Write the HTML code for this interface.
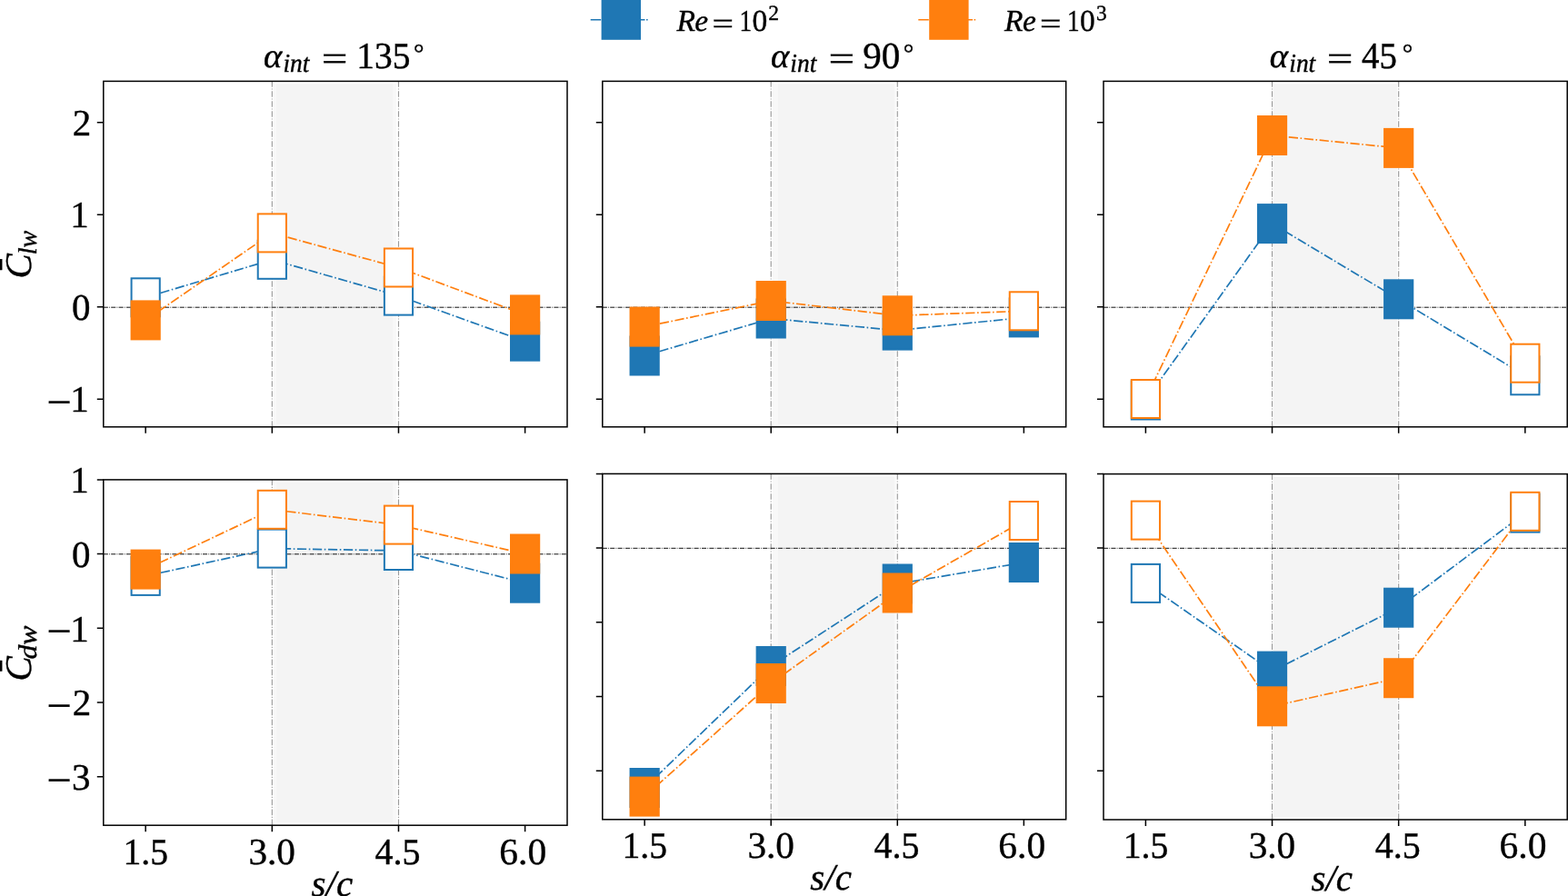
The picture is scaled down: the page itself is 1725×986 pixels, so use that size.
<!DOCTYPE html>
<html><head><meta charset="utf-8"><title>Figure</title>
<style>
html,body{margin:0;padding:0;background:#fff;}
body{width:1725px;height:986px;overflow:hidden;}
svg{display:block;}
text{font-family:"Liberation Serif", "DejaVu Serif", serif;fill:#000;stroke:#000;stroke-width:0.4px;text-rendering:geometricPrecision;}
</style></head>
<body>
<svg width="1725" height="986" viewBox="0 0 1725 986">
<rect width="1725" height="986" fill="#fff"/>
<rect x="301.00" y="92.40" width="135.20" height="374.40" fill="#f8f8f8"/>
<rect x="304.00" y="92.40" width="128.00" height="374.40" fill="#f4f4f4"/>
<line x1="299.33" y1="469.80" x2="299.33" y2="89.40" stroke="#9a9a9a" stroke-width="1.15" stroke-dasharray="6.64 1.66 1.04 1.66"/>
<line x1="438.47" y1="469.80" x2="438.47" y2="89.40" stroke="#9a9a9a" stroke-width="1.15" stroke-dasharray="6.64 1.66 1.04 1.66"/>
<line x1="113.80" y1="338.20" x2="624.00" y2="338.20" stroke="#111" stroke-width="1.0" stroke-dasharray="5.07 1.27 0.79 1.27"/>
<polyline points="160.18,327.30 299.33,285.80 438.47,325.60 577.62,375.70" fill="none" stroke="#1f77b4" stroke-width="1.7" stroke-dasharray="10.26 2.57 1.6 2.57"/>
<rect x="144.58" y="306.30" width="31.20" height="42.00" fill="#fff" stroke="#1f77b4" stroke-width="2.0"/>
<rect x="283.73" y="264.80" width="31.20" height="42.00" fill="#fff" stroke="#1f77b4" stroke-width="2.0"/>
<rect x="422.87" y="304.60" width="31.20" height="42.00" fill="#fff" stroke="#1f77b4" stroke-width="2.0"/>
<rect x="562.02" y="354.70" width="31.20" height="42.00" fill="#1f77b4" stroke="#1f77b4" stroke-width="2.0"/>
<polyline points="160.18,352.40 299.33,256.40 438.47,294.50 577.62,346.40" fill="none" stroke="#ff7f0e" stroke-width="1.7" stroke-dasharray="10.26 2.57 1.6 2.57"/>
<rect x="144.58" y="331.40" width="31.20" height="42.00" fill="#ff7f0e" stroke="#ff7f0e" stroke-width="2.0"/>
<rect x="283.73" y="235.40" width="31.20" height="42.00" fill="#fff" stroke="#ff7f0e" stroke-width="2.0"/>
<rect x="422.87" y="273.50" width="31.20" height="42.00" fill="#fff" stroke="#ff7f0e" stroke-width="2.0"/>
<rect x="562.02" y="325.40" width="31.20" height="42.00" fill="#ff7f0e" stroke="#ff7f0e" stroke-width="2.0"/>
<rect x="113.80" y="89.40" width="510.20" height="380.40" fill="none" stroke="#000" stroke-width="1.50" stroke-linecap="square"/>
<path d="M160.18 469.80v7.00M299.33 469.80v7.00M438.47 469.80v7.00M577.62 469.80v7.00M113.80 134.76h-7.00M113.80 236.23h-7.00M113.80 337.70h-7.00M113.80 439.17h-7.00" stroke="#000" stroke-width="1.50" fill="none"/>
<text x="79.66" y="148.96" font-size="41.00">2</text>
<text x="77.36" y="250.43" font-size="41.00">1</text>
<text x="79.06" y="351.90" font-size="41.00">0</text>
<text x="77.36" y="453.37" font-size="41.00">1</text>
<text transform="translate(51.60 458.20) scale(1.174 1.126)" font-size="41.00">−</text>
<rect x="850.00" y="92.40" width="135.50" height="374.40" fill="#f8f8f8"/>
<rect x="856.00" y="92.40" width="127.80" height="374.40" fill="#f4f4f4"/>
<line x1="848.22" y1="469.80" x2="848.22" y2="89.40" stroke="#9a9a9a" stroke-width="1.15" stroke-dasharray="6.64 1.66 1.04 1.66"/>
<line x1="987.28" y1="469.80" x2="987.28" y2="89.40" stroke="#9a9a9a" stroke-width="1.15" stroke-dasharray="6.64 1.66 1.04 1.66"/>
<line x1="662.80" y1="338.20" x2="1172.70" y2="338.20" stroke="#111" stroke-width="1.0" stroke-dasharray="5.07 1.27 0.79 1.27"/>
<polyline points="709.15,391.50 848.22,350.50 987.28,363.60 1126.35,349.40" fill="none" stroke="#1f77b4" stroke-width="1.7" stroke-dasharray="10.26 2.57 1.6 2.57"/>
<rect x="693.55" y="370.50" width="31.20" height="42.00" fill="#1f77b4" stroke="#1f77b4" stroke-width="2.0"/>
<rect x="832.62" y="329.50" width="31.20" height="42.00" fill="#1f77b4" stroke="#1f77b4" stroke-width="2.0"/>
<rect x="971.68" y="342.60" width="31.20" height="42.00" fill="#1f77b4" stroke="#1f77b4" stroke-width="2.0"/>
<rect x="1110.75" y="328.40" width="31.20" height="42.00" fill="#1f77b4" stroke="#1f77b4" stroke-width="2.0"/>
<polyline points="709.15,359.60 848.22,331.00 987.28,347.30 1126.35,342.30" fill="none" stroke="#ff7f0e" stroke-width="1.7" stroke-dasharray="10.26 2.57 1.6 2.57"/>
<rect x="693.55" y="338.60" width="31.20" height="42.00" fill="#ff7f0e" stroke="#ff7f0e" stroke-width="2.0"/>
<rect x="832.62" y="310.00" width="31.20" height="42.00" fill="#ff7f0e" stroke="#ff7f0e" stroke-width="2.0"/>
<rect x="971.68" y="326.30" width="31.20" height="42.00" fill="#ff7f0e" stroke="#ff7f0e" stroke-width="2.0"/>
<rect x="1110.75" y="321.30" width="31.20" height="42.00" fill="#fff" stroke="#ff7f0e" stroke-width="2.0"/>
<rect x="662.80" y="89.40" width="509.90" height="380.40" fill="none" stroke="#000" stroke-width="1.50" stroke-linecap="square"/>
<path d="M709.15 469.80v7.00M848.22 469.80v7.00M987.28 469.80v7.00M1126.35 469.80v7.00M662.80 134.76h-7.00M662.80 236.23h-7.00M662.80 337.70h-7.00M662.80 439.17h-7.00" stroke="#000" stroke-width="1.50" fill="none"/>
<rect x="1400.60" y="92.40" width="136.60" height="374.40" fill="#f4f4f4"/>
<line x1="1399.53" y1="469.80" x2="1399.53" y2="89.40" stroke="#9a9a9a" stroke-width="1.15" stroke-dasharray="6.64 1.66 1.04 1.66"/>
<line x1="1538.67" y1="469.80" x2="1538.67" y2="89.40" stroke="#9a9a9a" stroke-width="1.15" stroke-dasharray="6.64 1.66 1.04 1.66"/>
<line x1="1214.00" y1="338.20" x2="1724.20" y2="338.20" stroke="#111" stroke-width="1.0" stroke-dasharray="5.07 1.27 0.79 1.27"/>
<polyline points="1260.38,440.50 1399.53,246.10 1538.67,329.30 1677.82,413.30" fill="none" stroke="#1f77b4" stroke-width="1.7" stroke-dasharray="10.26 2.57 1.6 2.57"/>
<rect x="1244.78" y="419.50" width="31.20" height="42.00" fill="#fff" stroke="#1f77b4" stroke-width="2.0"/>
<rect x="1383.93" y="225.10" width="31.20" height="42.00" fill="#1f77b4" stroke="#1f77b4" stroke-width="2.0"/>
<rect x="1523.07" y="308.30" width="31.20" height="42.00" fill="#1f77b4" stroke="#1f77b4" stroke-width="2.0"/>
<rect x="1662.22" y="392.30" width="31.20" height="42.00" fill="#fff" stroke="#1f77b4" stroke-width="2.0"/>
<polyline points="1260.38,439.00 1399.53,149.00 1538.67,162.90 1677.82,399.70" fill="none" stroke="#ff7f0e" stroke-width="1.7" stroke-dasharray="10.26 2.57 1.6 2.57"/>
<rect x="1244.78" y="418.00" width="31.20" height="42.00" fill="#fff" stroke="#ff7f0e" stroke-width="2.0"/>
<rect x="1383.93" y="128.00" width="31.20" height="42.00" fill="#ff7f0e" stroke="#ff7f0e" stroke-width="2.0"/>
<rect x="1523.07" y="141.90" width="31.20" height="42.00" fill="#ff7f0e" stroke="#ff7f0e" stroke-width="2.0"/>
<rect x="1662.22" y="378.70" width="31.20" height="42.00" fill="#fff" stroke="#ff7f0e" stroke-width="2.0"/>
<rect x="1214.00" y="89.40" width="510.20" height="380.40" fill="none" stroke="#000" stroke-width="1.50" stroke-linecap="square"/>
<path d="M1260.38 469.80v7.00M1399.53 469.80v7.00M1538.67 469.80v7.00M1677.82 469.80v7.00M1214.00 134.76h-7.00M1214.00 236.23h-7.00M1214.00 337.70h-7.00M1214.00 439.17h-7.00" stroke="#000" stroke-width="1.50" fill="none"/>
<rect x="301.00" y="530.90" width="135.40" height="374.30" fill="#f8f8f8"/>
<rect x="304.30" y="530.90" width="127.70" height="374.30" fill="#f4f4f4"/>
<line x1="299.33" y1="908.20" x2="299.33" y2="527.90" stroke="#9a9a9a" stroke-width="1.15" stroke-dasharray="6.64 1.66 1.04 1.66"/>
<line x1="438.47" y1="908.20" x2="438.47" y2="527.90" stroke="#9a9a9a" stroke-width="1.15" stroke-dasharray="6.64 1.66 1.04 1.66"/>
<line x1="113.80" y1="609.80" x2="624.00" y2="609.80" stroke="#111" stroke-width="1.0" stroke-dasharray="5.07 1.27 0.79 1.27"/>
<polyline points="160.18,633.90 299.33,603.60 438.47,606.00 577.62,641.70" fill="none" stroke="#1f77b4" stroke-width="1.7" stroke-dasharray="10.26 2.57 1.6 2.57"/>
<rect x="144.58" y="612.90" width="31.20" height="42.00" fill="#fff" stroke="#1f77b4" stroke-width="2.0"/>
<rect x="283.73" y="582.60" width="31.20" height="42.00" fill="#fff" stroke="#1f77b4" stroke-width="2.0"/>
<rect x="422.87" y="585.00" width="31.20" height="42.00" fill="#fff" stroke="#1f77b4" stroke-width="2.0"/>
<rect x="562.02" y="620.70" width="31.20" height="42.00" fill="#1f77b4" stroke="#1f77b4" stroke-width="2.0"/>
<polyline points="160.18,626.60 299.33,560.80 438.47,577.60 577.62,609.50" fill="none" stroke="#ff7f0e" stroke-width="1.7" stroke-dasharray="10.26 2.57 1.6 2.57"/>
<rect x="144.58" y="605.60" width="31.20" height="42.00" fill="#ff7f0e" stroke="#ff7f0e" stroke-width="2.0"/>
<rect x="283.73" y="539.80" width="31.20" height="42.00" fill="#fff" stroke="#ff7f0e" stroke-width="2.0"/>
<rect x="422.87" y="556.60" width="31.20" height="42.00" fill="#fff" stroke="#ff7f0e" stroke-width="2.0"/>
<rect x="562.02" y="588.50" width="31.20" height="42.00" fill="#ff7f0e" stroke="#ff7f0e" stroke-width="2.0"/>
<rect x="113.80" y="527.90" width="510.20" height="380.30" fill="none" stroke="#000" stroke-width="1.50" stroke-linecap="square"/>
<path d="M160.18 908.20v7.00M299.33 908.20v7.00M438.47 908.20v7.00M577.62 908.20v7.00M113.80 527.88h-7.00M113.80 609.60h-7.00M113.80 691.32h-7.00M113.80 773.04h-7.00M113.80 854.76h-7.00" stroke="#000" stroke-width="1.50" fill="none"/>
<text x="77.36" y="542.08" font-size="41.00">1</text>
<text x="79.06" y="623.80" font-size="41.00">0</text>
<text x="77.36" y="705.52" font-size="41.00">1</text>
<text transform="translate(51.60 710.35) scale(1.174 1.126)" font-size="41.00">−</text>
<text x="79.66" y="787.24" font-size="41.00">2</text>
<text transform="translate(51.60 792.07) scale(1.174 1.126)" font-size="41.00">−</text>
<text x="78.90" y="868.96" font-size="41.00">3</text>
<text transform="translate(51.60 873.79) scale(1.174 1.126)" font-size="41.00">−</text>
<text transform="translate(135.51 950.60) scale(0.9686 1)" font-size="41.00">1.5</text>
<text transform="translate(273.43 950.60) scale(1.0057 1)" font-size="41.00">3.0</text>
<text transform="translate(412.62 950.60) scale(0.9745 1)" font-size="41.00">4.5</text>
<text transform="translate(549.37 950.60) scale(1.0120 1)" font-size="41.00">6.0</text>
<rect x="850.00" y="524.40" width="135.50" height="374.40" fill="#f8f8f8"/>
<rect x="856.00" y="524.40" width="127.80" height="374.40" fill="#f4f4f4"/>
<line x1="848.22" y1="901.80" x2="848.22" y2="521.40" stroke="#9a9a9a" stroke-width="1.15" stroke-dasharray="6.64 1.66 1.04 1.66"/>
<line x1="987.28" y1="901.80" x2="987.28" y2="521.40" stroke="#9a9a9a" stroke-width="1.15" stroke-dasharray="6.64 1.66 1.04 1.66"/>
<line x1="662.80" y1="603.30" x2="1172.70" y2="603.30" stroke="#111" stroke-width="1.0" stroke-dasharray="5.07 1.27 0.79 1.27"/>
<polyline points="709.15,867.00 848.22,733.00 987.28,642.50 1126.35,619.00" fill="none" stroke="#1f77b4" stroke-width="1.7" stroke-dasharray="10.26 2.57 1.6 2.57"/>
<rect x="693.55" y="846.00" width="31.20" height="42.00" fill="#1f77b4" stroke="#1f77b4" stroke-width="2.0"/>
<rect x="832.62" y="712.00" width="31.20" height="42.00" fill="#1f77b4" stroke="#1f77b4" stroke-width="2.0"/>
<rect x="971.68" y="621.50" width="31.20" height="42.00" fill="#1f77b4" stroke="#1f77b4" stroke-width="2.0"/>
<rect x="1110.75" y="598.00" width="31.20" height="42.00" fill="#1f77b4" stroke="#1f77b4" stroke-width="2.0"/>
<polyline points="709.15,876.60 848.22,752.00 987.28,652.50 1126.35,573.00" fill="none" stroke="#ff7f0e" stroke-width="1.7" stroke-dasharray="10.26 2.57 1.6 2.57"/>
<rect x="693.55" y="855.60" width="31.20" height="42.00" fill="#ff7f0e" stroke="#ff7f0e" stroke-width="2.0"/>
<rect x="832.62" y="731.00" width="31.20" height="42.00" fill="#ff7f0e" stroke="#ff7f0e" stroke-width="2.0"/>
<rect x="971.68" y="631.50" width="31.20" height="42.00" fill="#ff7f0e" stroke="#ff7f0e" stroke-width="2.0"/>
<rect x="1110.75" y="552.00" width="31.20" height="42.00" fill="#fff" stroke="#ff7f0e" stroke-width="2.0"/>
<rect x="662.80" y="521.40" width="509.90" height="380.40" fill="none" stroke="#000" stroke-width="1.50" stroke-linecap="square"/>
<path d="M709.15 901.80v7.00M848.22 901.80v7.00M987.28 901.80v7.00M1126.35 901.80v7.00M662.80 521.38h-7.00M662.80 603.10h-7.00M662.80 684.82h-7.00M662.80 766.54h-7.00M662.80 848.26h-7.00" stroke="#000" stroke-width="1.50" fill="none"/>
<text transform="translate(684.51 944.00) scale(0.9686 1)" font-size="41.00">1.5</text>
<text transform="translate(822.43 944.00) scale(1.0057 1)" font-size="41.00">3.0</text>
<text transform="translate(961.62 944.00) scale(0.9745 1)" font-size="41.00">4.5</text>
<text transform="translate(1098.37 944.00) scale(1.0120 1)" font-size="41.00">6.0</text>
<rect x="1400.60" y="524.60" width="136.60" height="374.40" fill="#f4f4f4"/>
<line x1="1399.53" y1="902.00" x2="1399.53" y2="521.60" stroke="#9a9a9a" stroke-width="1.15" stroke-dasharray="6.64 1.66 1.04 1.66"/>
<line x1="1538.67" y1="902.00" x2="1538.67" y2="521.60" stroke="#9a9a9a" stroke-width="1.15" stroke-dasharray="6.64 1.66 1.04 1.66"/>
<line x1="1214.00" y1="603.30" x2="1724.20" y2="603.30" stroke="#111" stroke-width="1.0" stroke-dasharray="5.07 1.27 0.79 1.27"/>
<polyline points="1260.38,641.90 1399.53,738.60 1538.67,668.70 1677.82,564.60" fill="none" stroke="#1f77b4" stroke-width="1.7" stroke-dasharray="10.26 2.57 1.6 2.57"/>
<rect x="1244.78" y="620.90" width="31.20" height="42.00" fill="#fff" stroke="#1f77b4" stroke-width="2.0"/>
<rect x="1383.93" y="717.60" width="31.20" height="42.00" fill="#1f77b4" stroke="#1f77b4" stroke-width="2.0"/>
<rect x="1523.07" y="647.70" width="31.20" height="42.00" fill="#1f77b4" stroke="#1f77b4" stroke-width="2.0"/>
<rect x="1662.22" y="543.60" width="31.20" height="42.00" fill="#fff" stroke="#1f77b4" stroke-width="2.0"/>
<polyline points="1260.38,572.60 1399.53,777.30 1538.67,746.20 1677.82,562.80" fill="none" stroke="#ff7f0e" stroke-width="1.7" stroke-dasharray="10.26 2.57 1.6 2.57"/>
<rect x="1244.78" y="551.60" width="31.20" height="42.00" fill="#fff" stroke="#ff7f0e" stroke-width="2.0"/>
<rect x="1383.93" y="756.30" width="31.20" height="42.00" fill="#ff7f0e" stroke="#ff7f0e" stroke-width="2.0"/>
<rect x="1523.07" y="725.20" width="31.20" height="42.00" fill="#ff7f0e" stroke="#ff7f0e" stroke-width="2.0"/>
<rect x="1662.22" y="541.80" width="31.20" height="42.00" fill="#fff" stroke="#ff7f0e" stroke-width="2.0"/>
<rect x="1214.00" y="521.60" width="510.20" height="380.40" fill="none" stroke="#000" stroke-width="1.50" stroke-linecap="square"/>
<path d="M1260.38 902.00v7.00M1399.53 902.00v7.00M1538.67 902.00v7.00M1677.82 902.00v7.00M1214.00 521.38h-7.00M1214.00 603.10h-7.00M1214.00 684.82h-7.00M1214.00 766.54h-7.00M1214.00 848.26h-7.00" stroke="#000" stroke-width="1.50" fill="none"/>
<text transform="translate(1235.71 944.00) scale(0.9686 1)" font-size="41.00">1.5</text>
<text transform="translate(1373.63 944.00) scale(1.0057 1)" font-size="41.00">3.0</text>
<text transform="translate(1512.82 944.00) scale(0.9745 1)" font-size="41.00">4.5</text>
<text transform="translate(1649.57 944.00) scale(1.0120 1)" font-size="41.00">6.0</text>
<text transform="translate(290.05 74.30) scale(1.0318 1)" font-size="37.50" font-style="italic">α</text>
<text transform="translate(311.47 79.30) scale(0.9565 1)" font-size="28.70" font-style="italic">int</text>
<text transform="translate(353.76 77.27) scale(1.242 0.927)" font-size="41.00">=</text>
<text transform="translate(392.33 75.00) scale(0.9628 1)" font-size="41.00">135</text>
<text x="455.03" y="68.40" font-size="28.70">°</text>
<text transform="translate(847.95 74.30) scale(1.0318 1)" font-size="37.50" font-style="italic">α</text>
<text transform="translate(869.37 79.30) scale(0.9565 1)" font-size="28.70" font-style="italic">int</text>
<text transform="translate(911.46 77.27) scale(1.242 0.927)" font-size="41.00">=</text>
<text transform="translate(949.28 75.00) scale(1.0022 1)" font-size="41.00">90</text>
<text x="993.83" y="68.40" font-size="28.70">°</text>
<text transform="translate(1396.85 74.30) scale(1.0318 1)" font-size="37.50" font-style="italic">α</text>
<text transform="translate(1418.27 79.30) scale(0.9565 1)" font-size="28.70" font-style="italic">int</text>
<text transform="translate(1459.76 77.27) scale(1.242 0.927)" font-size="41.00">=</text>
<text transform="translate(1498.04 75.00) scale(0.9482 1)" font-size="41.00">45</text>
<text x="1542.63" y="68.40" font-size="28.70">°</text>
<text transform="translate(34.10 306.38) rotate(-90) scale(1.0000 1)" font-size="41.00" font-style="italic">C</text>
<text transform="translate(39.70 280.29) rotate(-90) scale(0.9772 1)" font-size="28.70" font-style="italic">lw</text>
<text transform="translate(24.83 297.51) rotate(-90) scale(0.947 1)" font-size="41.00">ˉ</text>
<text transform="translate(34.30 749.38) rotate(-90) scale(1.0000 1)" font-size="41.00" font-style="italic">C</text>
<text transform="translate(39.90 725.56) rotate(-90) scale(1.1076 1)" font-size="28.70" font-style="italic">dw</text>
<text transform="translate(24.83 738.99) rotate(-90) scale(0.915 1)" font-size="41.00">ˉ</text>
<text x="342.60" y="985.50" font-size="41.00" font-style="italic">s/c</text>
<text x="891.30" y="979.40" font-size="41.00" font-style="italic">s/c</text>
<text x="1442.50" y="979.80" font-size="41.00" font-style="italic">s/c</text>
<line x1="649.70" y1="21.8" x2="712.60" y2="21.8" stroke="#1f77b4" stroke-width="1.6" stroke-dasharray="11.5 1.5 1.6 1.5"/>
<rect x="661.60" y="-0.2" width="43.4" height="44.0" fill="#1f77b4"/>
<text x="744.38" y="33.70" font-size="33.50" font-style="italic">R</text>
<text x="764.37" y="33.70" font-size="33.50" font-style="italic">e</text>
<text transform="translate(783.52 36.56) scale(1.244 1.003)" font-size="33.50">=</text>
<text transform="translate(813.40 33.70) scale(0.8140 1)" font-size="33.50">1</text>
<text x="827.42" y="33.70" font-size="33.50">0</text>
<text x="845.37" y="21.90" font-size="23.45">2</text>
<line x1="1010.30" y1="21.8" x2="1073.20" y2="21.8" stroke="#ff7f0e" stroke-width="1.6" stroke-dasharray="11.5 1.5 1.6 1.5"/>
<rect x="1022.20" y="-0.2" width="43.4" height="44.0" fill="#ff7f0e"/>
<text x="1104.98" y="33.70" font-size="33.50" font-style="italic">R</text>
<text x="1124.97" y="33.70" font-size="33.50" font-style="italic">e</text>
<text transform="translate(1144.12 36.56) scale(1.244 1.003)" font-size="33.50">=</text>
<text transform="translate(1174.00 33.70) scale(0.8140 1)" font-size="33.50">1</text>
<text x="1188.02" y="33.70" font-size="33.50">0</text>
<text x="1205.88" y="21.90" font-size="23.45">3</text>
</svg>
</body></html>
